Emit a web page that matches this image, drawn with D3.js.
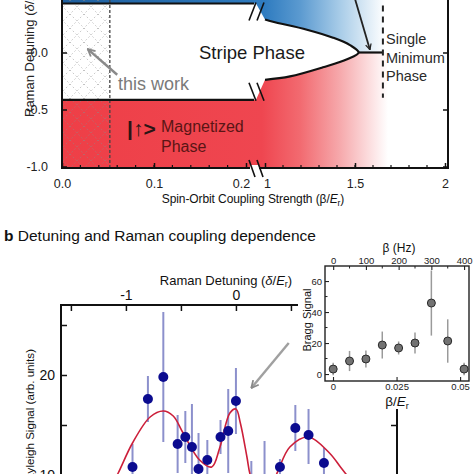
<!DOCTYPE html>
<html><head><meta charset="utf-8">
<script src="https://cdn.jsdelivr.net/npm/d3@7"></script>
<style>
html,body{margin:0;padding:0;background:#fff;}
svg{display:block;}
text{font-family:"Liberation Sans",Arial,Helvetica,sans-serif;}
</style>
</head><body>
<svg id="c" width="474" height="474"></svg>
<script>
// ---------- Panel a: phase diagram ----------
const phaseXTicks = [0, 0.1, 0.2, 1, 1.5, 2];
const phaseXTickLabels = ["0.0", "0.1", "0.2", "1", "1.5", "2"];
const phaseYTicks = [0, -0.5, -1];
const phaseYTickLabels = ["0.0", "-0.5", "-1.0"];
const stripeTopLeft = 0.43;       // flat upper boundary (small beta)
const stripeBottomLeft = -0.415;  // flat lower boundary (small beta)
const upperBoundary = [[1, 0.29], [1.044, 0.27], [1.233, 0.20], [1.378, 0.13], [1.472, 0.065], [1.52, 0]];
const lowerBoundary = [[1.52, 0], [1.456, -0.06], [1.322, -0.13], [1.139, -0.21], [1, -0.24]];
const thisWorkBeta = 0.052;
const singleMinBeta = 1.655;

// ---------- Panel b: main ----------
const detuning    = [-0.94, -0.80, -0.66, -0.53, -0.46, -0.40, -0.34, -0.26, -0.14, -0.07, 0.00, 0.14, 0.26, 0.40, 0.54, 0.66, 0.80];
const rayleigh    = [10.8, 17.6, 19.8, 13.1, 13.8, 12.8, 10.6, 11.5, 13.8, 14.4, 17.4, 8.4, 9.4, 10.8, 14.7, 14.0, 11.2];
const rayleighErr = [2.3, 2.3, 6.5, 2.9, 2.6, 4.3, 3.6, 2.0, 1.7, 4.2, 3.3, 3.0, 4.0, 0.8, 2.3, 2.9, 1.5];
const fitDetuning = [-1.12, -1.07, -0.94, -0.78, -0.66, -0.57, -0.48, -0.33, -0.22, -0.145, -0.055, 0, 0.04, 0.10, 0.13, 0.2, 0.3, 0.37, 0.49, 0.66, 0.85, 0.95, 1.05];
const fitSignal   = [9.2, 10.2, 13.2, 15.8, 16.4, 15.9, 14.2, 11.5, 10.8, 12.8, 16.2, 16.6, 15.2, 11.8, 10.0, 8.0, 8.6, 10.1, 12.8, 13.8, 12.2, 10.8, 9.4];
const detuningTicks = [-1.5, -1, -0.5, 0, 0.5, 1];
const detuningTickLabels = ["", "-1", "", "0", "", ""];
const rayleighTicks = [10, 15, 20, 25];
const rayleighTickLabels = ["10", "", "20", ""];

// ---------- Panel b: inset ----------
const braggHz = [0, 50, 100, 150, 200, 250, 300, 350, 400];
const bragg = [3.2, 8.4, 9.7, 18.7, 16.8, 20.0, 45.8, 21.3, 3.2];
const braggErr = [4, 6.5, 5.5, 8.7, 4.2, 6.8, 21, 14, 4];
const hzTicks = [0, 100, 200, 300, 400];
const erTicks = [0, 0.025, 0.05];
const erTickLabels = ["0", "0.025", "0.05"];
const braggTicks = [0, 20, 40, 60];

const svg = d3.select("#c");
const defs = svg.append("defs");

// ================= PANEL A =================
const xP = d3.scaleLinear().domain([0, 0.2, 1, 2]).range([62, 246, 265, 445]);
const yP = d3.scaleLinear().domain([0, -1]).range([52.5, 166.5]);
const fL = 62, fR = 448, fB = 168, fT = -5;
const breakX = xP(0.2) + 10;

const bg = defs.append("linearGradient").attr("id", "blueG").attr("gradientUnits", "userSpaceOnUse")
  .attr("x1", fL).attr("x2", fR).attr("y1", 0).attr("y2", 0);
[[fL, "#1f5f9e"], [265, "#2f7cc0"], [300, "#5b9ad0"], [340, "#a8cce8"], [385, "#ffffff"], [fR, "#ffffff"]]
  .forEach(s => bg.append("stop").attr("offset", (s[0] - fL) / (fR - fL)).attr("stop-color", s[1]));
const rg = defs.append("linearGradient").attr("id", "redG").attr("gradientUnits", "userSpaceOnUse")
  .attr("x1", fL).attr("x2", fR).attr("y1", 0).attr("y2", 0);
[[fL, "#ee3f47"], [262, "#ef4650"], [300, "#f26a70"], [340, "#f6a9ac"], [388, "#ffffff"], [fR, "#ffffff"]]
  .forEach(s => rg.append("stop").attr("offset", (s[0] - fL) / (fR - fL)).attr("stop-color", s[1]));

const hatch = defs.append("pattern").attr("id", "hatch").attr("patternUnits", "userSpaceOnUse")
  .attr("width", 14).attr("height", 14);
hatch.append("path").attr("d", "M0,0 L14,14 M14,0 L0,14").attr("stroke", "#8a8a8a").attr("stroke-width", 0.8)
  .attr("stroke-dasharray", "1.5,2.5").attr("fill", "none").attr("opacity", 0.65);

const A = svg.append("g");
A.append("rect").attr("x", fL).attr("y", fT).attr("width", fR - fL).attr("height", yP(0) - fT).attr("fill", "url(#blueG)");
A.append("rect").attr("x", fL).attr("y", yP(0)).attr("width", fR - fL).attr("height", fB - yP(0)).attr("fill", "url(#redG)");

// stripe region (white)
const curvePts = upperBoundary.concat(lowerBoundary.slice(1)).map(d => [xP(d[0]), yP(d[1])]);
const curveLine = d3.line().curve(d3.curveCatmullRom.alpha(0.5));
const curveD = curveLine(curvePts);
const stripeD = `M${fL},${yP(stripeTopLeft)} L${breakX},${yP(stripeTopLeft)} L` + curveD.slice(1) +
  ` L${breakX},${yP(stripeBottomLeft)} L${fL},${yP(stripeBottomLeft)} Z`;
A.append("path").attr("d", stripeD).attr("fill", "#fff");

// hatched "this work" region
A.append("rect").attr("x", fL).attr("y", fT).attr("width", xP(thisWorkBeta) - fL).attr("height", fB - fT).attr("fill", "url(#hatch)");
A.append("line").attr("x1", xP(thisWorkBeta)).attr("x2", xP(thisWorkBeta)).attr("y1", fT).attr("y2", fB)
  .attr("stroke", "#444").attr("stroke-width", 1.3).attr("stroke-dasharray", "3,2");

// boundaries
const bStroke = "#111";
A.append("path").attr("d", curveD).attr("fill", "none").attr("stroke", bStroke).attr("stroke-width", 2.2);
A.append("line").attr("x1", fL).attr("x2", breakX - 2).attr("y1", yP(stripeTopLeft)).attr("y2", yP(stripeTopLeft)).attr("stroke", bStroke).attr("stroke-width", 2.2);
A.append("line").attr("x1", fL).attr("x2", breakX - 2).attr("y1", yP(stripeBottomLeft)).attr("y2", yP(stripeBottomLeft)).attr("stroke", bStroke).attr("stroke-width", 2.2);
A.append("line").attr("x1", xP(1.52)).attr("x2", xP(singleMinBeta)).attr("y1", yP(0)).attr("y2", yP(0)).attr("stroke", bStroke).attr("stroke-width", 2.2);
[breakX - 7, breakX + 1].forEach(x0 => {
  A.append("line").attr("x1", x0).attr("y1", yP(stripeTopLeft) + 17).attr("x2", x0 + 7).attr("y2", yP(stripeTopLeft) - 1).attr("stroke", bStroke).attr("stroke-width", 1.6);
  A.append("line").attr("x1", x0).attr("y1", yP(stripeBottomLeft) - 17).attr("x2", x0 + 7).attr("y2", yP(stripeBottomLeft) + 1).attr("stroke", bStroke).attr("stroke-width", 1.6);
});
A.append("line").attr("x1", xP(singleMinBeta)).attr("x2", xP(singleMinBeta)).attr("y1", yP(stripeTopLeft) + 2).attr("y2", yP(stripeBottomLeft) - 2)
  .attr("stroke", "#222").attr("stroke-width", 2).attr("stroke-dasharray", "6,5");

// arrows
defs.append("marker").attr("id", "ahBlack").attr("viewBox", "0 0 10 10").attr("refX", 9).attr("refY", 5)
  .attr("markerWidth", 7).attr("markerHeight", 7).attr("orient", "auto").attr("markerUnits", "userSpaceOnUse")
  .append("path").attr("d", "M1,1 L9,5 L1,9").attr("fill", "none").attr("stroke", "#222").attr("stroke-width", 1.8);
defs.append("marker").attr("id", "ahGray").attr("viewBox", "0 0 10 10").attr("refX", 9).attr("refY", 5)
  .attr("markerWidth", 9).attr("markerHeight", 9).attr("orient", "auto").attr("markerUnits", "userSpaceOnUse")
  .append("path").attr("d", "M1,1 L9,5 L1,9").attr("fill", "none").attr("stroke", "#8a8a8a").attr("stroke-width", 2);
A.append("line").attr("x1", xP(1.5)).attr("y1", yP(0.47)).attr("x2", xP(1.583)).attr("y2", yP(0.025))
  .attr("stroke", "#222").attr("stroke-width", 1.8).attr("marker-end", "url(#ahBlack)");
A.append("line").attr("x1", xP(0.06)).attr("y1", yP(-0.195)).attr("x2", xP(0.028)).attr("y2", yP(0.03))
  .attr("stroke", "#8a8a8a").attr("stroke-width", 2.4).attr("marker-end", "url(#ahGray)");

// frame
A.append("path").attr("d", `M${fL},${fT} L${fL},${fB} L${fR},${fB} L${fR},${fT}`).attr("fill", "none").attr("stroke", "#111").attr("stroke-width", 2);

// axes
const axB = A.append("g").attr("transform", `translate(0,${fB})`)
  .call(d3.axisBottom(xP).tickValues(phaseXTicks).tickFormat((d, i) => phaseXTickLabels[i]).tickSize(-5).tickPadding(11));
axB.select(".domain").remove();
axB.selectAll("text").attr("font-size", 12.5).attr("fill", "#222").attr("font-family", '"Liberation Sans",Arial,sans-serif')
  .attr("dx", d => d === 0.2 ? -5 : (d === 1 ? 2 : 0));
axB.selectAll("line").attr("stroke", "#111").attr("stroke-width", 1.5);
const minorX = d3.range(0.02, 0.2, 0.02).concat(d3.range(1.1, 2, 0.1));
A.selectAll(".mx").data(minorX).enter().append("line").attr("x1", d => xP(d)).attr("x2", d => xP(d))
  .attr("y1", fB).attr("y2", fB - 3).attr("stroke", "#111").attr("stroke-width", 1.2);
A.append("rect").attr("x", breakX - 6).attr("y", fB - 3).attr("width", 9).attr("height", 6).attr("fill", "#fff");
[breakX - 7, breakX + 1].forEach(x0 => {
  A.append("line").attr("x1", x0).attr("y1", fB - 8).attr("x2", x0 + 6).attr("y2", fB + 9).attr("stroke", "#111").attr("stroke-width", 1.6);
});

const axL = A.append("g").attr("transform", `translate(${fL},0)`)
  .call(d3.axisLeft(yP).tickValues(phaseYTicks).tickFormat((d, i) => phaseYTickLabels[i]).tickSize(-5).tickPadding(14));
axL.select(".domain").remove();
axL.selectAll("text").attr("font-size", 12.5).attr("fill", "#222").attr("font-family", '"Liberation Sans",Arial,sans-serif');
axL.selectAll("line").attr("stroke", "#111").attr("stroke-width", 1.5);
const axR = A.append("g").attr("transform", `translate(${fR},0)`)
  .call(d3.axisRight(yP).tickValues(phaseYTicks).tickFormat("").tickSize(-5));
axR.select(".domain").remove();
axR.selectAll("line").attr("stroke", "#111").attr("stroke-width", 1.5);

// texts
A.append("text").attr("transform", "translate(34,117) rotate(-90)").attr("font-size", 13).attr("fill", "#222")
  .html('Raman Detuning (<tspan font-style="italic">δ</tspan>/<tspan font-style="italic">E</tspan><tspan font-size="9" dy="3">r</tspan><tspan dy="-3">)</tspan>');
A.append("text").attr("x", 253).attr("y", 203).attr("text-anchor", "middle").attr("font-size", 12).attr("fill", "#111")
  .attr("letter-spacing", "-0.1")
  .html('Spin-Orbit Coupling Strength (β/<tspan font-style="italic">E</tspan><tspan font-size="8.5" dy="2.5">r</tspan><tspan dy="-2.5">)</tspan>');
A.append("text").attr("x", 199).attr("y", 59).attr("font-size", 18.5).attr("fill", "#1a1a1a").text("Stripe Phase");
A.append("text").attr("x", 118).attr("y", 90).attr("font-size", 18).attr("fill", "#7a7a7a").text("this work");
A.append("text").attr("x", 127).attr("y", 136).attr("font-size", 21).attr("font-weight", "bold").attr("fill", "#2a1515").text("|↑>");
A.append("text").attr("x", 161).attr("y", 132).attr("font-size", 16).attr("fill", "#5a1515").text("Magnetized");
A.append("text").attr("x", 161).attr("y", 152).attr("font-size", 16).attr("fill", "#5a1515").text("Phase");
["Single", "Minimum", "Phase"].forEach((t, i) =>
  A.append("text").attr("x", 386).attr("y", 44 + i * 18.5).attr("font-size", 14.5).attr("fill", "#2a2a2a").text(t));

// ================= PANEL B =================
svg.append("text").attr("x", 4).attr("y", 241).attr("font-size", 15.5).attr("fill", "#111")
  .html('<tspan font-weight="bold">b</tspan> Detuning and Raman coupling dependence');

const xM = d3.scaleLinear().domain([-1.59, 1.464]).range([61, 397]);
const yM = d3.scaleLinear().domain([10, 27]).range([475, 305]);
const B = svg.append("g");
defs.append("clipPath").attr("id", "clipM").append("rect").attr("x", 61).attr("y", 305).attr("width", 336).attr("height", 175);

const plot = B.append("g").attr("clip-path", "url(#clipM)");
plot.selectAll(".eb").data(detuning).enter().append("line")
  .attr("x1", d => xM(d)).attr("x2", d => xM(d))
  .attr("y1", (d, i) => yM(rayleigh[i] - rayleighErr[i])).attr("y2", (d, i) => yM(rayleigh[i] + rayleighErr[i]))
  .attr("stroke", "#8c90cc").attr("stroke-width", 2);
plot.append("path").datum(fitDetuning.map((d, i) => [d, fitSignal[i]]))
  .attr("d", d3.line().x(d => xM(d[0])).y(d => yM(d[1])).curve(d3.curveCatmullRom.alpha(0.5)))
  .attr("fill", "none").attr("stroke", "#cc1f3a").attr("stroke-width", 1.6);
plot.selectAll(".pt").data(detuning).enter().append("circle")
  .attr("cx", d => xM(d)).attr("cy", (d, i) => yM(rayleigh[i])).attr("r", 5)
  .attr("fill", "#0b0b8f");

B.append("line").attr("x1", xM(0.48)).attr("y1", yM(23.2)).attr("x2", xM(0.14)).attr("y2", yM(18.7))
  .attr("stroke", "#a0a0a0").attr("stroke-width", 2.4).attr("marker-end", "url(#ahGray)");

B.append("path").attr("d", `M61,480 L61,305 L397,305 L397,480`).attr("fill", "none").attr("stroke", "#111").attr("stroke-width", 2);
const axT = B.append("g").attr("transform", "translate(0,305)")
  .call(d3.axisTop(xM).tickValues(detuningTicks).tickFormat((d, i) => detuningTickLabels[i]).tickSize(-6).tickPadding(5));
axT.select(".domain").remove();
axT.selectAll("text").attr("font-size", 14).attr("fill", "#111").attr("font-family", '"Liberation Sans",Arial,sans-serif');
axT.selectAll("line").attr("stroke", "#111").attr("stroke-width", 1.5);
const axML = B.append("g").attr("transform", "translate(61,0)")
  .call(d3.axisLeft(yM).tickValues(rayleighTicks).tickFormat((d, i) => rayleighTickLabels[i]).tickSize(-6).tickPadding(6));
axML.select(".domain").remove();
axML.selectAll("text").attr("font-size", 14).attr("fill", "#111").attr("font-family", '"Liberation Sans",Arial,sans-serif');
axML.selectAll("line").attr("stroke", "#111").attr("stroke-width", 1.5);
const axMR = B.append("g").attr("transform", "translate(397,0)")
  .call(d3.axisRight(yM).tickValues(rayleighTicks).tickFormat("").tickSize(-6));
axMR.select(".domain").remove();
axMR.selectAll("line").attr("stroke", "#111").attr("stroke-width", 1.5);

B.append("text").attr("x", 226).attr("y", 284.5).attr("text-anchor", "middle").attr("font-size", 13).attr("fill", "#111")
  .html('Raman Detuning (<tspan font-style="italic">δ</tspan>/<tspan font-style="italic">E</tspan><tspan font-size="9" dy="2.5">r</tspan><tspan dy="-2.5">)</tspan>');
B.append("text").attr("transform", "translate(34,349) rotate(-90)").attr("text-anchor", "end").attr("font-size", 11.6).attr("fill", "#111")
  .text("Rayleigh Signal (arb. units)");

// ================= INSET =================
const I = svg.append("g");
I.append("rect").attr("x", 298).attr("y", 245).attr("width", 176).attr("height", 164).attr("fill", "#fff");
const xIhz = d3.scaleLinear().domain([-25, 415]).range([325, 469]);
const xIer = d3.scaleLinear().domain([-0.00315, 0.0535]).range([325, 469]);
const yI = d3.scaleLinear().domain([-4.5, 69.7]).range([381, 266]);

I.selectAll(".ieb").data(braggHz).enter().append("line")
  .attr("x1", d => xIhz(d)).attr("x2", d => xIhz(d))
  .attr("y1", (d, i) => yI(bragg[i] - braggErr[i])).attr("y2", (d, i) => yI(bragg[i] + braggErr[i]))
  .attr("stroke", "#9a9a9a").attr("stroke-width", 1.5);
I.selectAll(".ipt").data(braggHz).enter().append("circle")
  .attr("cx", d => xIhz(d)).attr("cy", (d, i) => yI(bragg[i])).attr("r", 4)
  .attr("fill", "#727272").attr("stroke", "#2a2a2a").attr("stroke-width", 1);

I.append("rect").attr("x", 325).attr("y", 266).attr("width", 144).attr("height", 115)
  .attr("fill", "none").attr("stroke", "#222").attr("stroke-width", 1.4);

const iT = I.append("g").attr("transform", "translate(0,266)")
  .call(d3.axisTop(xIhz).tickValues(hzTicks).tickSize(-4).tickPadding(2));
const iB = I.append("g").attr("transform", "translate(0,381)")
  .call(d3.axisBottom(xIer).tickValues(erTicks).tickFormat((d, i) => erTickLabels[i]).tickSize(-4).tickPadding(2));
const iL = I.append("g").attr("transform", "translate(325,0)")
  .call(d3.axisLeft(yI).tickValues(braggTicks).tickSize(-4).tickPadding(3));
[iT, iB, iL].forEach(g => {
  g.select(".domain").remove();
  g.selectAll("text").attr("font-size", 9.5).attr("fill", "#222").attr("font-family", '"Liberation Sans",Arial,sans-serif');
  g.selectAll("line").attr("stroke", "#222").attr("stroke-width", 1.1);
});
I.selectAll(".imy").data([10, 30, 50]).enter().append("line")
  .attr("x1", 325).attr("x2", 327.5).attr("y1", d => yI(d)).attr("y2", d => yI(d)).attr("stroke", "#222").attr("stroke-width", 1);
I.selectAll(".imx").data([50, 150, 250, 350]).enter().append("line")
  .attr("x1", d => xIhz(d)).attr("x2", d => xIhz(d)).attr("y1", 266).attr("y2", 268.5).attr("stroke", "#222").attr("stroke-width", 1);

I.append("text").attr("x", 399).attr("y", 252).attr("text-anchor", "middle").attr("font-size", 12).attr("fill", "#111").text("β (Hz)");
I.append("text").attr("x", 397).attr("y", 406).attr("text-anchor", "middle").attr("font-size", 13.5).attr("fill", "#111")
  .html('β/<tspan font-style="italic">E</tspan><tspan font-size="9" dy="2.5">r</tspan>');
I.append("text").attr("transform", "translate(311,320) rotate(-90)").attr("text-anchor", "middle").attr("font-size", 11).attr("fill", "#111")
  .text("Bragg Signal");
</script>
</body></html>
